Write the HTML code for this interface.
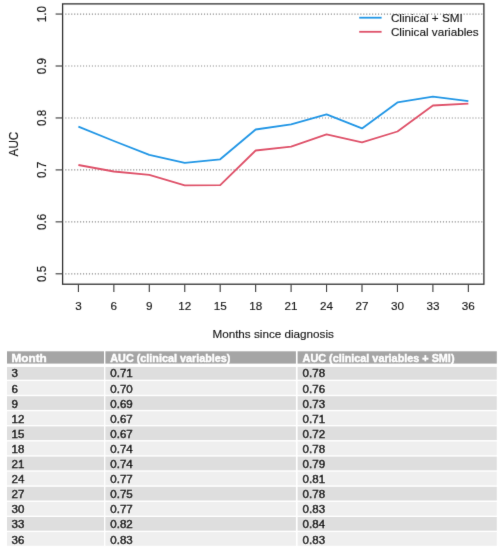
<!DOCTYPE html><html><head><meta charset="utf-8"><style>html,body{margin:0;padding:0;background:#fff;}svg{display:block;}</style></head><body>
<svg width="501" height="550" viewBox="0 0 501 550">
<defs><filter id="bl" x="-2%" y="-2%" width="104%" height="104%"><feConvolveMatrix order="3" kernelMatrix="0.0072 0.0847 0.0072 0.0847 1 0.0847 0.0072 0.0847 0.0072" divisor="1.3673" edgeMode="duplicate"/></filter></defs>
<rect x="0" y="0" width="501" height="550" fill="#fff"/>
<g filter="url(#bl)">
<line x1="65.30" y1="14.05" x2="482.90" y2="14.05" stroke="#8f8f8f" stroke-width="1.15" stroke-dasharray="1.15 1.8"/>
<line x1="65.30" y1="66.00" x2="482.90" y2="66.00" stroke="#8f8f8f" stroke-width="1.15" stroke-dasharray="1.15 1.8"/>
<line x1="65.30" y1="117.95" x2="482.90" y2="117.95" stroke="#8f8f8f" stroke-width="1.15" stroke-dasharray="1.15 1.8"/>
<line x1="65.30" y1="169.90" x2="482.90" y2="169.90" stroke="#8f8f8f" stroke-width="1.15" stroke-dasharray="1.15 1.8"/>
<line x1="65.30" y1="221.85" x2="482.90" y2="221.85" stroke="#8f8f8f" stroke-width="1.15" stroke-dasharray="1.15 1.8"/>
<line x1="65.30" y1="273.80" x2="482.90" y2="273.80" stroke="#8f8f8f" stroke-width="1.15" stroke-dasharray="1.15 1.8"/>
<polyline points="78.40,165.00 113.85,171.50 149.30,174.90 184.75,185.30 220.20,185.20 255.65,150.50 291.10,146.70 326.55,134.40 362.00,142.30 397.45,131.50 432.90,105.50 468.35,103.60" fill="none" stroke="#DF536B" stroke-width="1.8" stroke-linejoin="round" stroke-linecap="butt"/>
<polyline points="78.40,126.70 113.85,141.00 149.30,154.90 184.75,162.90 220.20,159.30 255.65,129.50 291.10,124.40 326.55,114.30 362.00,128.40 397.45,102.40 432.90,96.60 468.35,101.20" fill="none" stroke="#2297E6" stroke-width="1.8" stroke-linejoin="round" stroke-linecap="butt"/>
<rect x="62.60" y="3.90" width="421.30" height="280.30" fill="none" stroke="#333" stroke-width="1.3"/>
<line x1="55.60" y1="14.05" x2="62.60" y2="14.05" stroke="#444" stroke-width="1.15"/>
<text transform="translate(46.1 14.05) rotate(-90) scale(1 1.07)" text-anchor="middle" font-family="Liberation Sans, Arial, sans-serif" font-size="11.7" fill="#1a1a1a" stroke="#1a1a1a" stroke-width="0.15">1.0</text>
<line x1="55.60" y1="66.00" x2="62.60" y2="66.00" stroke="#444" stroke-width="1.15"/>
<text transform="translate(46.1 66.00) rotate(-90) scale(1 1.07)" text-anchor="middle" font-family="Liberation Sans, Arial, sans-serif" font-size="11.7" fill="#1a1a1a" stroke="#1a1a1a" stroke-width="0.15">0.9</text>
<line x1="55.60" y1="117.95" x2="62.60" y2="117.95" stroke="#444" stroke-width="1.15"/>
<text transform="translate(46.1 117.95) rotate(-90) scale(1 1.07)" text-anchor="middle" font-family="Liberation Sans, Arial, sans-serif" font-size="11.7" fill="#1a1a1a" stroke="#1a1a1a" stroke-width="0.15">0.8</text>
<line x1="55.60" y1="169.90" x2="62.60" y2="169.90" stroke="#444" stroke-width="1.15"/>
<text transform="translate(46.1 169.90) rotate(-90) scale(1 1.07)" text-anchor="middle" font-family="Liberation Sans, Arial, sans-serif" font-size="11.7" fill="#1a1a1a" stroke="#1a1a1a" stroke-width="0.15">0.7</text>
<line x1="55.60" y1="221.85" x2="62.60" y2="221.85" stroke="#444" stroke-width="1.15"/>
<text transform="translate(46.1 221.85) rotate(-90) scale(1 1.07)" text-anchor="middle" font-family="Liberation Sans, Arial, sans-serif" font-size="11.7" fill="#1a1a1a" stroke="#1a1a1a" stroke-width="0.15">0.6</text>
<line x1="55.60" y1="273.80" x2="62.60" y2="273.80" stroke="#444" stroke-width="1.15"/>
<text transform="translate(46.1 273.80) rotate(-90) scale(1 1.07)" text-anchor="middle" font-family="Liberation Sans, Arial, sans-serif" font-size="11.7" fill="#1a1a1a" stroke="#1a1a1a" stroke-width="0.15">0.5</text>
<line x1="78.40" y1="284.20" x2="78.40" y2="292.00" stroke="#444" stroke-width="1.15"/>
<text x="78.40" y="309.7" text-anchor="middle" font-family="Liberation Sans, Arial, sans-serif" font-size="11.7" fill="#1a1a1a" stroke="#1a1a1a" stroke-width="0.15">3</text>
<line x1="113.85" y1="284.20" x2="113.85" y2="292.00" stroke="#444" stroke-width="1.15"/>
<text x="113.85" y="309.7" text-anchor="middle" font-family="Liberation Sans, Arial, sans-serif" font-size="11.7" fill="#1a1a1a" stroke="#1a1a1a" stroke-width="0.15">6</text>
<line x1="149.30" y1="284.20" x2="149.30" y2="292.00" stroke="#444" stroke-width="1.15"/>
<text x="149.30" y="309.7" text-anchor="middle" font-family="Liberation Sans, Arial, sans-serif" font-size="11.7" fill="#1a1a1a" stroke="#1a1a1a" stroke-width="0.15">9</text>
<line x1="184.75" y1="284.20" x2="184.75" y2="292.00" stroke="#444" stroke-width="1.15"/>
<text x="184.75" y="309.7" text-anchor="middle" font-family="Liberation Sans, Arial, sans-serif" font-size="11.7" fill="#1a1a1a" stroke="#1a1a1a" stroke-width="0.15">12</text>
<line x1="220.20" y1="284.20" x2="220.20" y2="292.00" stroke="#444" stroke-width="1.15"/>
<text x="220.20" y="309.7" text-anchor="middle" font-family="Liberation Sans, Arial, sans-serif" font-size="11.7" fill="#1a1a1a" stroke="#1a1a1a" stroke-width="0.15">15</text>
<line x1="255.65" y1="284.20" x2="255.65" y2="292.00" stroke="#444" stroke-width="1.15"/>
<text x="255.65" y="309.7" text-anchor="middle" font-family="Liberation Sans, Arial, sans-serif" font-size="11.7" fill="#1a1a1a" stroke="#1a1a1a" stroke-width="0.15">18</text>
<line x1="291.10" y1="284.20" x2="291.10" y2="292.00" stroke="#444" stroke-width="1.15"/>
<text x="291.10" y="309.7" text-anchor="middle" font-family="Liberation Sans, Arial, sans-serif" font-size="11.7" fill="#1a1a1a" stroke="#1a1a1a" stroke-width="0.15">21</text>
<line x1="326.55" y1="284.20" x2="326.55" y2="292.00" stroke="#444" stroke-width="1.15"/>
<text x="326.55" y="309.7" text-anchor="middle" font-family="Liberation Sans, Arial, sans-serif" font-size="11.7" fill="#1a1a1a" stroke="#1a1a1a" stroke-width="0.15">24</text>
<line x1="362.00" y1="284.20" x2="362.00" y2="292.00" stroke="#444" stroke-width="1.15"/>
<text x="362.00" y="309.7" text-anchor="middle" font-family="Liberation Sans, Arial, sans-serif" font-size="11.7" fill="#1a1a1a" stroke="#1a1a1a" stroke-width="0.15">27</text>
<line x1="397.45" y1="284.20" x2="397.45" y2="292.00" stroke="#444" stroke-width="1.15"/>
<text x="397.45" y="309.7" text-anchor="middle" font-family="Liberation Sans, Arial, sans-serif" font-size="11.7" fill="#1a1a1a" stroke="#1a1a1a" stroke-width="0.15">30</text>
<line x1="432.90" y1="284.20" x2="432.90" y2="292.00" stroke="#444" stroke-width="1.15"/>
<text x="432.90" y="309.7" text-anchor="middle" font-family="Liberation Sans, Arial, sans-serif" font-size="11.7" fill="#1a1a1a" stroke="#1a1a1a" stroke-width="0.15">33</text>
<line x1="468.35" y1="284.20" x2="468.35" y2="292.00" stroke="#444" stroke-width="1.15"/>
<text x="468.35" y="309.7" text-anchor="middle" font-family="Liberation Sans, Arial, sans-serif" font-size="11.7" fill="#1a1a1a" stroke="#1a1a1a" stroke-width="0.15">36</text>
<text x="273.15" y="337.7" text-anchor="middle" font-family="Liberation Sans, Arial, sans-serif" font-size="11.7" fill="#1a1a1a" stroke="#1a1a1a" stroke-width="0.15">Months since diagnosis</text>
<text transform="translate(18.3 144.05) rotate(-90) scale(1 1.07)" text-anchor="middle" font-family="Liberation Sans, Arial, sans-serif" font-size="11.7" fill="#1a1a1a" stroke="#1a1a1a" stroke-width="0.15">AUC</text>
<line x1="359.2" y1="17.7" x2="381.6" y2="17.7" stroke="#2297E6" stroke-width="1.8"/>
<line x1="359.2" y1="31.8" x2="381.6" y2="31.8" stroke="#DF536B" stroke-width="1.8"/>
<text x="390.9" y="21.8" font-family="Liberation Sans, Arial, sans-serif" font-size="11.7" fill="#1a1a1a" stroke="#1a1a1a" stroke-width="0.15">Clinical + SMI</text>
<text x="390.9" y="35.8" font-family="Liberation Sans, Arial, sans-serif" font-size="11.7" fill="#1a1a1a" stroke="#1a1a1a" stroke-width="0.15">Clinical variables</text>
<g>
<rect x="7.0" y="351.3" width="97.00" height="12.30" fill="#A5A5A5"/>
<text x="11.6" y="362.1" textLength="35.2" lengthAdjust="spacingAndGlyphs" font-family="Liberation Sans, Arial, sans-serif" font-size="10.6" font-weight="bold" fill="#fff" stroke="#fff" stroke-width="0.4">Month</text>
<rect x="105.4" y="351.3" width="190.50" height="12.30" fill="#A5A5A5"/>
<text x="110.3" y="362.1" textLength="120.1" lengthAdjust="spacingAndGlyphs" font-family="Liberation Sans, Arial, sans-serif" font-size="10.6" font-weight="bold" fill="#fff" stroke="#fff" stroke-width="0.4">AUC (clinical variables)</text>
<rect x="297.6" y="351.3" width="199.20" height="12.30" fill="#A5A5A5"/>
<text x="302.6" y="362.1" textLength="151.9" lengthAdjust="spacingAndGlyphs" font-family="Liberation Sans, Arial, sans-serif" font-size="10.6" font-weight="bold" fill="#fff" stroke="#fff" stroke-width="0.4">AUC (clinical variables + SMI)</text>
<rect x="7.0" y="366.95" width="97.00" height="12.75" fill="#DEDEDE"/>
<rect x="105.4" y="366.95" width="190.50" height="12.75" fill="#DEDEDE"/>
<rect x="297.6" y="366.95" width="199.20" height="12.75" fill="#DEDEDE"/>
<text transform="translate(11.6 377.40) scale(1.05 1)" font-family="Liberation Sans, Arial, sans-serif" font-size="11" fill="#000" stroke="#000" stroke-width="0.4">3</text>
<text transform="translate(110.3 377.40) scale(1.05 1)" font-family="Liberation Sans, Arial, sans-serif" font-size="11" fill="#000" stroke="#000" stroke-width="0.4">0.71</text>
<text transform="translate(302.6 377.40) scale(1.05 1)" font-family="Liberation Sans, Arial, sans-serif" font-size="11" fill="#000" stroke="#000" stroke-width="0.4">0.78</text>
<rect x="7.0" y="381.10" width="97.00" height="13.70" fill="#EFEFEF"/>
<rect x="105.4" y="381.10" width="190.50" height="13.70" fill="#EFEFEF"/>
<rect x="297.6" y="381.10" width="199.20" height="13.70" fill="#EFEFEF"/>
<text transform="translate(11.6 392.50) scale(1.05 1)" font-family="Liberation Sans, Arial, sans-serif" font-size="11" fill="#000" stroke="#000" stroke-width="0.4">6</text>
<text transform="translate(110.3 392.50) scale(1.05 1)" font-family="Liberation Sans, Arial, sans-serif" font-size="11" fill="#000" stroke="#000" stroke-width="0.4">0.70</text>
<text transform="translate(302.6 392.50) scale(1.05 1)" font-family="Liberation Sans, Arial, sans-serif" font-size="11" fill="#000" stroke="#000" stroke-width="0.4">0.76</text>
<rect x="7.0" y="396.20" width="97.00" height="13.70" fill="#DEDEDE"/>
<rect x="105.4" y="396.20" width="190.50" height="13.70" fill="#DEDEDE"/>
<rect x="297.6" y="396.20" width="199.20" height="13.70" fill="#DEDEDE"/>
<text transform="translate(11.6 407.60) scale(1.05 1)" font-family="Liberation Sans, Arial, sans-serif" font-size="11" fill="#000" stroke="#000" stroke-width="0.4">9</text>
<text transform="translate(110.3 407.60) scale(1.05 1)" font-family="Liberation Sans, Arial, sans-serif" font-size="11" fill="#000" stroke="#000" stroke-width="0.4">0.69</text>
<text transform="translate(302.6 407.60) scale(1.05 1)" font-family="Liberation Sans, Arial, sans-serif" font-size="11" fill="#000" stroke="#000" stroke-width="0.4">0.73</text>
<rect x="7.0" y="411.30" width="97.00" height="13.70" fill="#EFEFEF"/>
<rect x="105.4" y="411.30" width="190.50" height="13.70" fill="#EFEFEF"/>
<rect x="297.6" y="411.30" width="199.20" height="13.70" fill="#EFEFEF"/>
<text transform="translate(11.6 422.70) scale(1.05 1)" font-family="Liberation Sans, Arial, sans-serif" font-size="11" fill="#000" stroke="#000" stroke-width="0.4">12</text>
<text transform="translate(110.3 422.70) scale(1.05 1)" font-family="Liberation Sans, Arial, sans-serif" font-size="11" fill="#000" stroke="#000" stroke-width="0.4">0.67</text>
<text transform="translate(302.6 422.70) scale(1.05 1)" font-family="Liberation Sans, Arial, sans-serif" font-size="11" fill="#000" stroke="#000" stroke-width="0.4">0.71</text>
<rect x="7.0" y="426.40" width="97.00" height="13.70" fill="#DEDEDE"/>
<rect x="105.4" y="426.40" width="190.50" height="13.70" fill="#DEDEDE"/>
<rect x="297.6" y="426.40" width="199.20" height="13.70" fill="#DEDEDE"/>
<text transform="translate(11.6 437.80) scale(1.05 1)" font-family="Liberation Sans, Arial, sans-serif" font-size="11" fill="#000" stroke="#000" stroke-width="0.4">15</text>
<text transform="translate(110.3 437.80) scale(1.05 1)" font-family="Liberation Sans, Arial, sans-serif" font-size="11" fill="#000" stroke="#000" stroke-width="0.4">0.67</text>
<text transform="translate(302.6 437.80) scale(1.05 1)" font-family="Liberation Sans, Arial, sans-serif" font-size="11" fill="#000" stroke="#000" stroke-width="0.4">0.72</text>
<rect x="7.0" y="441.50" width="97.00" height="13.70" fill="#EFEFEF"/>
<rect x="105.4" y="441.50" width="190.50" height="13.70" fill="#EFEFEF"/>
<rect x="297.6" y="441.50" width="199.20" height="13.70" fill="#EFEFEF"/>
<text transform="translate(11.6 452.90) scale(1.05 1)" font-family="Liberation Sans, Arial, sans-serif" font-size="11" fill="#000" stroke="#000" stroke-width="0.4">18</text>
<text transform="translate(110.3 452.90) scale(1.05 1)" font-family="Liberation Sans, Arial, sans-serif" font-size="11" fill="#000" stroke="#000" stroke-width="0.4">0.74</text>
<text transform="translate(302.6 452.90) scale(1.05 1)" font-family="Liberation Sans, Arial, sans-serif" font-size="11" fill="#000" stroke="#000" stroke-width="0.4">0.78</text>
<rect x="7.0" y="456.60" width="97.00" height="13.70" fill="#DEDEDE"/>
<rect x="105.4" y="456.60" width="190.50" height="13.70" fill="#DEDEDE"/>
<rect x="297.6" y="456.60" width="199.20" height="13.70" fill="#DEDEDE"/>
<text transform="translate(11.6 468.00) scale(1.05 1)" font-family="Liberation Sans, Arial, sans-serif" font-size="11" fill="#000" stroke="#000" stroke-width="0.4">21</text>
<text transform="translate(110.3 468.00) scale(1.05 1)" font-family="Liberation Sans, Arial, sans-serif" font-size="11" fill="#000" stroke="#000" stroke-width="0.4">0.74</text>
<text transform="translate(302.6 468.00) scale(1.05 1)" font-family="Liberation Sans, Arial, sans-serif" font-size="11" fill="#000" stroke="#000" stroke-width="0.4">0.79</text>
<rect x="7.0" y="471.70" width="97.00" height="13.70" fill="#EFEFEF"/>
<rect x="105.4" y="471.70" width="190.50" height="13.70" fill="#EFEFEF"/>
<rect x="297.6" y="471.70" width="199.20" height="13.70" fill="#EFEFEF"/>
<text transform="translate(11.6 483.10) scale(1.05 1)" font-family="Liberation Sans, Arial, sans-serif" font-size="11" fill="#000" stroke="#000" stroke-width="0.4">24</text>
<text transform="translate(110.3 483.10) scale(1.05 1)" font-family="Liberation Sans, Arial, sans-serif" font-size="11" fill="#000" stroke="#000" stroke-width="0.4">0.77</text>
<text transform="translate(302.6 483.10) scale(1.05 1)" font-family="Liberation Sans, Arial, sans-serif" font-size="11" fill="#000" stroke="#000" stroke-width="0.4">0.81</text>
<rect x="7.0" y="486.80" width="97.00" height="13.70" fill="#DEDEDE"/>
<rect x="105.4" y="486.80" width="190.50" height="13.70" fill="#DEDEDE"/>
<rect x="297.6" y="486.80" width="199.20" height="13.70" fill="#DEDEDE"/>
<text transform="translate(11.6 498.20) scale(1.05 1)" font-family="Liberation Sans, Arial, sans-serif" font-size="11" fill="#000" stroke="#000" stroke-width="0.4">27</text>
<text transform="translate(110.3 498.20) scale(1.05 1)" font-family="Liberation Sans, Arial, sans-serif" font-size="11" fill="#000" stroke="#000" stroke-width="0.4">0.75</text>
<text transform="translate(302.6 498.20) scale(1.05 1)" font-family="Liberation Sans, Arial, sans-serif" font-size="11" fill="#000" stroke="#000" stroke-width="0.4">0.78</text>
<rect x="7.0" y="501.90" width="97.00" height="13.70" fill="#EFEFEF"/>
<rect x="105.4" y="501.90" width="190.50" height="13.70" fill="#EFEFEF"/>
<rect x="297.6" y="501.90" width="199.20" height="13.70" fill="#EFEFEF"/>
<text transform="translate(11.6 513.30) scale(1.05 1)" font-family="Liberation Sans, Arial, sans-serif" font-size="11" fill="#000" stroke="#000" stroke-width="0.4">30</text>
<text transform="translate(110.3 513.30) scale(1.05 1)" font-family="Liberation Sans, Arial, sans-serif" font-size="11" fill="#000" stroke="#000" stroke-width="0.4">0.77</text>
<text transform="translate(302.6 513.30) scale(1.05 1)" font-family="Liberation Sans, Arial, sans-serif" font-size="11" fill="#000" stroke="#000" stroke-width="0.4">0.83</text>
<rect x="7.0" y="517.00" width="97.00" height="13.70" fill="#DEDEDE"/>
<rect x="105.4" y="517.00" width="190.50" height="13.70" fill="#DEDEDE"/>
<rect x="297.6" y="517.00" width="199.20" height="13.70" fill="#DEDEDE"/>
<text transform="translate(11.6 528.40) scale(1.05 1)" font-family="Liberation Sans, Arial, sans-serif" font-size="11" fill="#000" stroke="#000" stroke-width="0.4">33</text>
<text transform="translate(110.3 528.40) scale(1.05 1)" font-family="Liberation Sans, Arial, sans-serif" font-size="11" fill="#000" stroke="#000" stroke-width="0.4">0.82</text>
<text transform="translate(302.6 528.40) scale(1.05 1)" font-family="Liberation Sans, Arial, sans-serif" font-size="11" fill="#000" stroke="#000" stroke-width="0.4">0.84</text>
<rect x="7.0" y="532.10" width="97.00" height="13.70" fill="#EFEFEF"/>
<rect x="105.4" y="532.10" width="190.50" height="13.70" fill="#EFEFEF"/>
<rect x="297.6" y="532.10" width="199.20" height="13.70" fill="#EFEFEF"/>
<text transform="translate(11.6 543.50) scale(1.05 1)" font-family="Liberation Sans, Arial, sans-serif" font-size="11" fill="#000" stroke="#000" stroke-width="0.4">36</text>
<text transform="translate(110.3 543.50) scale(1.05 1)" font-family="Liberation Sans, Arial, sans-serif" font-size="11" fill="#000" stroke="#000" stroke-width="0.4">0.83</text>
<text transform="translate(302.6 543.50) scale(1.05 1)" font-family="Liberation Sans, Arial, sans-serif" font-size="11" fill="#000" stroke="#000" stroke-width="0.4">0.83</text>
</g>
</g>
</svg></body></html>
